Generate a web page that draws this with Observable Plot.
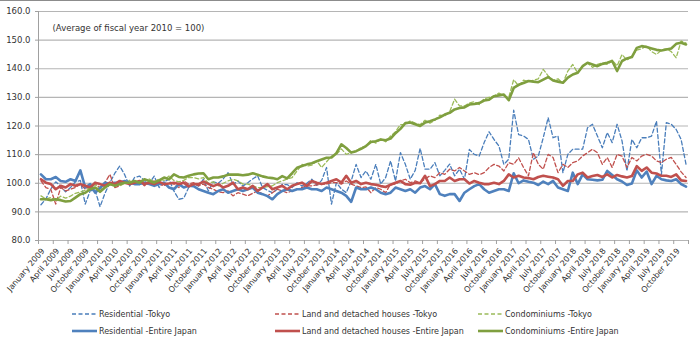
<!DOCTYPE html>
<html>
<head>
<meta charset="utf-8">
<script src="https://cdn.jsdelivr.net/npm/d3@7"></script>
<script src="https://cdn.jsdelivr.net/npm/@observablehq/plot@0.6"></script>
<style>
  html, body { margin: 0; padding: 0; background: #fff; }
  #wrap { width: 700px; height: 345px; position: relative; overflow: hidden; border-top: 1px solid #8c8c8c; box-sizing: border-box; font-family: "DejaVu Sans", sans-serif; }
  #legend { position: absolute; left: 0; top: 304px; width: 700px; height: 41px; }
  .item { position: absolute; display: flex; align-items: center; font-size: 8px; color: #333; height: 14px; white-space: nowrap; }
  .item svg { margin-right: 2px; }
</style>
</head>
<body>
<div id="wrap"><div id="chart"></div><div id="legend"></div></div>
<script>
// ---- categories / tick labels ----
const monthNames = ["January","February","March","April","May","June","July","August","September","October","November","December"];
const years = [2009,2010,2011,2012,2013,2014,2015,2016,2017,2018,2019];
const months = years.flatMap(y => monthNames.map(m => `${m} ${y}`));
const yTicks = [80, 90, 100, 110, 120, 130, 140, 150, 160];
const note = "(Average of fiscal year 2010 = 100)";

// ---- series values (Jan 2009 – Dec 2019, one row per year) ----
const residentialTokyo = [
  92.5, 94.5, 98.0, 100.5, 99.0, 97.0, 98.5, 100.5, 101.0, 92.7, 97.4, 97.5,
  91.8, 96.5, 100.2, 103.5, 106.0, 103.0, 99.0, 102.0, 102.5, 101.0, 100.0, 102.5,
  98.5, 100.5, 101.4, 97.3, 94.4, 94.8, 98.5, 99.7, 99.0, 101.4, 97.3, 100.5,
  100.0, 101.5, 103.7, 99.6, 100.8, 99.0, 100.2, 101.5, 102.6, 98.5, 97.5, 96.7,
  97.9, 99.6, 99.5, 98.5, 100.2, 99.0, 100.0, 101.4, 99.3, 101.0, 105.5, 92.7,
  100.2, 98.0, 96.7, 100.8, 106.6, 102.0, 104.3, 101.4, 106.6, 99.7, 102.0, 107.8,
  100.8, 110.7, 106.6, 101.4, 104.5, 112.2, 104.9, 104.9, 107.2, 102.6, 104.5, 106.7,
  102.6, 104.9, 101.4, 111.8, 110.1, 109.5, 114.2, 118.0, 115.3, 113.0, 106.6, 108.4,
  125.5, 117.0, 116.5, 115.3, 108.4, 109.5, 115.9, 122.9, 115.9, 116.5, 103.7, 110.1,
  111.9, 111.9, 111.9, 119.4, 120.6, 116.5, 112.4, 117.7, 114.2, 120.6, 114.8, 104.3,
  115.3, 112.4, 115.9, 115.9, 116.5, 121.7, 103.1, 121.2, 120.6, 118.8, 115.3, 106.6
];
const landTokyo = [
  100.8, 98.5, 97.9, 92.7, 98.5, 97.3, 97.9, 98.5, 99.7, 97.9, 99.1, 99.7,
  98.5, 100.2, 103.1, 98.5, 99.1, 100.8, 99.7, 100.2, 100.8, 99.1, 100.2, 100.8,
  99.7, 99.1, 100.2, 99.7, 98.5, 100.8, 99.7, 100.2, 99.1, 99.7, 98.5, 97.9,
  97.0, 96.7, 97.3, 95.6, 96.7, 96.2, 95.6, 96.5, 97.3, 96.2, 95.6, 96.7,
  97.9, 97.3, 96.7, 97.3, 97.9, 98.5, 99.1, 99.1, 99.4, 99.7, 99.7, 100.2,
  100.2, 99.7, 100.8, 99.7, 99.1, 98.5, 98.7, 96.7, 98.5, 97.9, 96.7, 99.7,
  99.7, 100.8, 101.4, 100.2, 100.8, 100.2, 101.5, 102.6, 102.0, 103.7, 103.1, 104.9,
  104.3, 105.5, 104.3, 103.1, 103.7, 103.0, 103.7, 105.5, 106.6, 106.0, 104.3, 107.2,
  106.6, 108.9, 105.5, 102.6, 110.7, 106.6, 104.9, 110.1, 109.0, 103.7, 106.6, 105.5,
  107.2, 107.8, 109.5, 110.7, 111.9, 110.7, 106.6, 109.0, 105.5, 110.1, 109.5, 105.5,
  109.0, 107.8, 109.5, 110.1, 109.5, 107.8, 107.2, 108.4, 109.0, 106.6, 104.0, 102.0
];
const condoTokyo = [
  95.6, 94.5, 95.0, 94.0, 95.5, 94.8, 95.5, 96.5, 97.0, 97.5, 98.5, 99.5,
  98.0, 99.0, 99.5, 100.2, 99.0, 100.0, 101.0, 100.5, 99.5, 101.0, 101.5, 100.5,
  101.5, 101.0, 102.5, 101.0, 100.5, 101.0, 102.0, 102.0, 101.5, 102.0, 100.0, 100.5,
  99.1, 100.0, 100.8, 101.4, 100.8, 99.7, 99.7, 99.1, 98.5, 98.5, 98.8, 99.1,
  100.2, 100.8, 101.5, 102.0, 104.3, 106.6, 106.0, 106.3, 107.8, 105.5, 107.5, 109.5,
  110.1, 112.0, 110.1, 110.7, 111.3, 112.5, 113.0, 115.0, 114.0, 115.5, 114.5, 116.5,
  118.0, 120.5, 120.5, 121.8, 121.0, 120.5, 122.0, 121.0, 122.0, 123.8, 123.5, 125.0,
  129.4, 127.0, 127.0, 128.0, 128.5, 127.5, 129.5, 130.0, 130.5, 131.5, 130.5, 130.0,
  136.2, 134.0, 136.0, 135.5, 136.0, 136.5, 139.8, 137.5, 136.0, 136.5, 135.0, 139.2,
  141.5, 138.5, 141.0, 142.0, 140.5, 141.5, 142.0, 141.5, 143.0, 141.0, 145.0, 143.0,
  144.5, 146.5, 147.0, 148.0, 146.0, 145.0, 146.5, 147.0, 146.0, 143.8, 149.7, 149.0
];
const residentialJapan = [
  103.1, 101.4, 101.4, 102.2, 100.8, 100.5, 101.4, 100.8, 104.5, 98.5, 99.7, 96.7,
  98.3, 100.2, 99.7, 100.2, 100.2, 100.8, 100.2, 99.7, 99.7, 100.2, 99.7, 99.1,
  99.7, 100.2, 98.5, 97.9, 99.7, 98.5, 99.1, 99.0, 97.9, 97.3, 96.7, 96.2,
  97.3, 97.9, 96.7, 97.3, 97.9, 97.3, 97.9, 98.5, 96.7, 96.2, 95.5, 94.4,
  96.2, 97.3, 97.9, 97.3, 97.9, 97.9, 98.5, 97.9, 97.9, 97.3, 98.5, 97.9,
  97.3, 96.7, 95.6, 93.5, 98.5, 97.9, 97.9, 98.5, 97.9, 96.7, 96.2, 96.7,
  98.5, 97.9, 97.3, 97.9, 96.7, 98.5, 99.0, 97.9, 99.7, 96.2, 95.6, 96.2,
  96.2, 93.8, 96.7, 97.9, 99.0, 99.7, 97.9, 96.7, 97.3, 97.9, 97.9, 97.3,
  103.5, 100.0, 101.0, 100.5, 100.2, 99.4, 100.6, 99.7, 100.8, 98.5, 97.9, 97.3,
  103.7, 99.7, 103.1, 101.4, 101.2, 101.0, 101.2, 104.3, 102.9, 101.4, 100.6, 99.4,
  99.9, 104.5, 102.0, 104.1, 99.7, 102.6, 101.4, 101.0, 100.8, 101.4, 99.7, 98.8
];
const landJapan = [
  101.4, 100.2, 99.7, 97.9, 99.1, 98.5, 99.7, 99.1, 99.7, 99.1, 98.5, 100.2,
  99.7, 99.1, 100.2, 99.7, 100.8, 100.2, 99.7, 100.2, 100.8, 99.7, 100.2, 99.7,
  100.5, 99.7, 99.9, 100.2, 99.7, 100.2, 98.9, 99.7, 99.7, 100.6, 99.8, 99.0,
  99.7, 98.5, 99.1, 100.2, 97.9, 98.5, 97.9, 99.1, 97.3, 98.5, 99.7, 97.9,
  98.5, 99.1, 97.9, 99.1, 99.7, 100.2, 99.1, 100.8, 100.2, 99.7, 100.2, 100.8,
  101.4, 100.2, 102.6, 100.2, 100.8, 99.7, 100.2, 99.7, 99.5, 99.0, 98.7, 99.5,
  100.2, 100.8, 99.7, 99.5, 100.2, 100.0, 102.6, 99.0, 99.7, 100.8, 100.8, 102.0,
  100.8, 101.4, 101.4, 99.9, 100.8, 100.2, 99.7, 99.7, 100.2, 99.7, 100.8, 103.1,
  102.0, 102.6, 102.0, 101.8, 101.4, 102.2, 102.6, 102.3, 102.0, 101.4, 99.1, 100.8,
  100.8, 103.1, 103.7, 102.0, 102.5, 102.9, 102.2, 103.1, 102.0, 102.9, 102.4, 102.0,
  102.5, 106.0, 104.3, 105.5, 103.7, 103.4, 102.6, 102.6, 102.2, 103.1, 101.0, 100.8
];
const condoJapan = [
  94.4, 94.4, 94.1, 94.4, 94.1, 93.6, 93.8, 95.0, 96.2, 96.7, 97.9, 98.5,
  97.0, 98.5, 99.7, 99.1, 99.7, 100.2, 100.2, 100.8, 100.2, 101.4, 100.8, 100.2,
  101.0, 102.0, 101.4, 103.1, 102.2, 102.0, 102.6, 103.1, 103.4, 103.5, 101.4, 102.0,
  102.0, 102.4, 103.0, 103.0, 103.0, 102.8, 103.0, 103.5, 103.0, 102.4, 102.0, 101.8,
  101.4, 102.5, 101.7, 103.5, 105.4, 106.0, 106.6, 107.0, 107.7, 108.3, 108.9, 109.0,
  110.5, 113.6, 112.3, 110.7, 111.2, 112.0, 113.0, 114.4, 114.7, 115.3, 115.0, 115.6,
  117.5, 119.0, 121.0, 121.2, 120.6, 120.0, 121.2, 121.7, 122.3, 123.0, 124.0, 124.6,
  125.8, 126.3, 126.5, 127.5, 127.7, 128.0, 128.9, 129.2, 130.4, 130.7, 131.0, 129.0,
  133.3, 134.4, 135.0, 135.7, 135.5, 135.3, 136.2, 137.1, 135.9, 135.5, 135.1, 136.9,
  138.0, 138.6, 140.9, 142.1, 141.5, 140.9, 141.7, 142.1, 142.7, 139.2, 142.7, 143.6,
  144.1, 147.3, 147.9, 147.6, 147.1, 146.6, 146.4, 146.7, 147.1, 148.7, 149.1, 148.5
];

const seriesNames = [
  "Residential -Tokyo", "Land and detached houses -Tokyo", "Condominiums -Tokyo",
  "Residential -Entire Japan", "Land and detached houses -Entire Japan", "Condominiums -Entire Japan"
];
const seriesValues = [residentialTokyo, landTokyo, condoTokyo, residentialJapan, landJapan, condoJapan];
const styles = [
  {stroke: "#4a7ebb", width: 1.3, dash: "4,2.5"},
  {stroke: "#c0504d", width: 1.3, dash: "4,2.5"},
  {stroke: "#9bbb59", width: 1.3, dash: "4,2.5"},
  {stroke: "#4f81bd", width: 2.6, dash: null},
  {stroke: "#c0504d", width: 2.6, dash: null},
  {stroke: "#7f9f3f", width: 2.6, dash: null}
];

const rows = seriesValues.map(vals => vals.map((v, i) => ({i, v})));
const n = months.length;
const labelIdx = d3.range(0, n, 3);
const tickPos = d3.range(-0.5, n, 3).concat([n - 0.5]);

const lineMarks = rows.map((r, k) => Plot.line(r, {
  x: "i", y: "v", stroke: styles[k].stroke, strokeWidth: styles[k].width,
  strokeDasharray: styles[k].dash || undefined, strokeLinejoin: "round"
}));

const chart = Plot.plot({
  width: 700, height: 304,
  marginTop: 10, marginLeft: 38, marginRight: 12, marginBottom: 65,
  style: {fontFamily: "DejaVu Sans, sans-serif", fontSize: "8.5px", color: "#333", background: "white"},
  x: {domain: [-0.5, n - 0.5], axis: null, label: null},
  y: {domain: [80, 160], axis: null, label: null},
  marks: [
    Plot.ruleY(yTicks, {stroke: "#b5b5b5", strokeWidth: 1.2}),
    Plot.ruleX([-0.5], {y1: 80, y2: 160, stroke: "#a0a0a0"}),
    Plot.axisY({ticks: yTicks, tickFormat: d3.format(".1f"), tickSize: 3, tickPadding: 5, stroke: "#a0a0a0", fill: "#333", fontSize: 8.5, label: null}),
    Plot.axisX({ticks: tickPos, tickSize: 4, tickFormat: () => "", stroke: "#a0a0a0", label: null}),
    Plot.text(labelIdx, {x: d => d, y: () => 80, text: d => months[d], rotate: -50, textAnchor: "end", dx: 2, dy: 9, fontSize: 8, fill: "#333"}),
    Plot.text([note], {frameAnchor: "top-left", dx: 14, dy: 17, textAnchor: "start", lineAnchor: "middle", fontSize: 8.5, fill: "#333"}),
    ...lineMarks
  ]
});
document.getElementById("chart").appendChild(chart);

// ---- legend ----
const legendPos = [
  {x: 72, y: 2}, {x: 275, y: 2}, {x: 478, y: 2},
  {x: 72, y: 19}, {x: 275, y: 19}, {x: 478, y: 19}
];
const legend = document.getElementById("legend");
seriesNames.forEach((name, k) => {
  const s = styles[k];
  const div = document.createElement("div");
  div.className = "item";
  div.style.left = legendPos[k].x + "px";
  div.style.top = legendPos[k].y + "px";
  div.innerHTML = `<svg width="25" height="6"><line x1="0" y1="3" x2="25" y2="3" stroke="${s.stroke}" stroke-width="${s.width}" ${s.dash ? `stroke-dasharray="${s.dash}"` : ""}/></svg><span>${name}</span>`;
  legend.appendChild(div);
});
</script>
</body>
</html>
